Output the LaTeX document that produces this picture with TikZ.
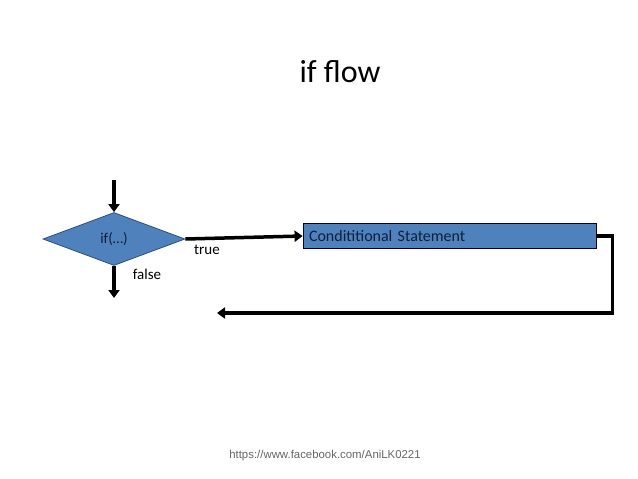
\documentclass[tikz,border=0pt]{standalone}
\usepackage{fontspec}
\setmainfont{Carlito}
\newfontfamily\urlfont{Liberation Sans}
\usetikzlibrary{shapes.geometric,arrows.meta}
\definecolor{boxblue}{HTML}{4F81BD}
\definecolor{edgeblue}{HTML}{2F4F7A}
\definecolor{inkblue}{HTML}{0F1F3D}
\tikzset{
  flow/.style={line width=3.5pt, -{Triangle[length=8pt,width=11pt]}},
  decision/.style={diamond, draw=edgeblue, fill=boxblue, line width=0.8pt, aspect=2.7,
    minimum width=142pt, minimum height=53pt, inner sep=0pt,
    font=\fontsize{15}{17}\selectfont, text=inkblue},
  stmtbox/.style={rectangle, draw=black!80!blue, fill=boxblue, line width=0.8pt,
    minimum width=293pt, minimum height=25pt, text width=281pt, align=left,
    inner sep=6pt, font=\fontsize{16}{18}\selectfont, text=inkblue},
  lbl/.style={font=\fontsize{15}{17}\selectfont}
}
\begin{document}
\begin{tikzpicture}[x=1pt,y=-1pt]
  \useasboundingbox (0,0) rectangle (638,479);
  \node[font=\fontsize{32}{38}\selectfont] (title) at (340,72) {if flow};
  \node[decision] (if) at (114,239) {if(…)};
  \node[stmtbox] (stmt) at (449.5,236) {Condititional Statement};
  \coordinate (in) at (114,180);
  \coordinate (out) at (114,298);
  \coordinate (back) at (217,313);
  \draw[flow] (in) -- (if.north);
  \draw[flow] (if.south) -- (out);
  \draw[flow] (if.east) -- (stmt.west);
  \draw[flow] (stmt.east) -- ++(16,0) |- (back);
  \node[lbl] (true) at (207,250) {true};
  \node[lbl] (false) at (147,274) {false};
  \node[font=\urlfont\fontsize{11.4}{13}\selectfont, text=black!60] (url) at (325,456) {https://www.facebook.com/AniLK0221};
\end{tikzpicture}
\end{document}
